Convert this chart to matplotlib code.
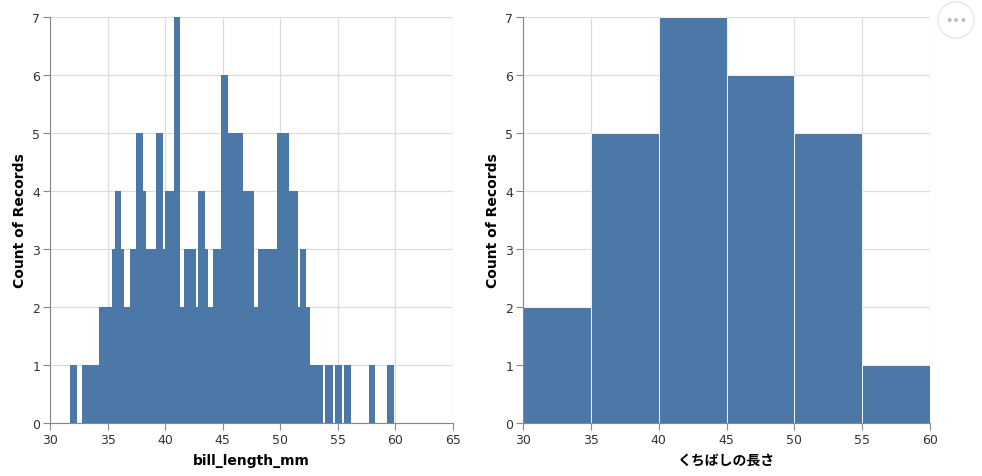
import matplotlib.pyplot as plt
from matplotlib.patches import Circle

plt.rcParams['font.family'] = ['DejaVu Sans', 'Noto Sans CJK JP']

# left chart: bill length values and how many records share each one
bill_length = [32.03, 33.03, 33.5, 33.97, 34.55, 35.07, 35.65, 35.92, 36.13, 36.65,
               37.23, 37.75, 38.03, 38.61, 38.96, 39.54, 39.67, 40.25, 40.45, 41.03,
               41.38, 41.96, 42.42, 42.59, 43.14, 43.39, 43.94, 44.49, 44.75, 45.14,
               45.55, 46.13, 46.45, 46.80, 47.43, 47.77, 48.35, 48.9, 49.39, 49.97,
               50.43, 51.01, 51.29, 51.41, 51.98, 52.27, 52.77, 53.34, 53.42, 54.17,
               54.29, 55.08, 55.84, 57.96, 59.55]
record_count = [1, 1, 1, 1, 2, 2, 3, 4, 3, 2,
                3, 5, 4, 3, 3, 5, 3, 4, 4, 7,
                2, 3, 3, 2, 4, 3, 2, 3, 3, 6,
                5, 5, 5, 4, 4, 2, 3, 3, 3, 5,
                5, 4, 4, 2, 3, 2, 1, 1, 1, 1,
                1, 1, 1, 1, 1]

# right chart: binned counts
bin_edges = [30, 35, 40, 45, 50, 55, 60]
bin_counts = [2, 5, 7, 6, 5, 1]

blue = '#4c78a8'
fig = plt.figure(figsize=(9.82, 4.77), dpi=100)
ax1 = fig.add_axes([0.0509, 0.1111, 0.4104, 0.8512])
ax2 = fig.add_axes([0.5326, 0.1111, 0.4145, 0.8512])

ax1.bar(bill_length, record_count, width=0.58, color=blue, linewidth=0)
ax1.set_xlim(30, 65)
ax1.set_xticks(range(30, 66, 5))
ax1.set_xlabel('bill_length_mm')

lefts = bin_edges[:-1]
widths = [b - a for a, b in zip(bin_edges[:-1], bin_edges[1:])]
ax2.bar(lefts, bin_counts, width=widths, align='edge', color=blue,
        edgecolor='white', linewidth=0.6)
ax2.set_xlim(30, 60)
ax2.set_xticks(range(30, 61, 5))
ax2.set_xlabel('くちばしの長さ')

for ax in (ax1, ax2):
    ax.set_ylim(0, 7)
    ax.set_yticks(range(0, 8))
    ax.set_ylabel('Count of Records', fontsize=10, fontweight='bold', labelpad=4)
    ax.xaxis.label.set_fontsize(10)
    ax.xaxis.label.set_fontweight('bold')
    ax.xaxis.labelpad = 5
    ax.grid(True, color='#dddddd', linewidth=0.9)
    ax.set_axisbelow(True)
    for s in ('top', 'right'):
        ax.spines[s].set_visible(False)
    for s in ('left', 'bottom'):
        ax.spines[s].set_color('#888888')
    ax.tick_params(length=5, color='#888888', labelsize=9, labelcolor='#333333', pad=2)

# the little menu button in the corner
btn = Circle((956, 477 - 21), 18, transform=None, facecolor='white',
             edgecolor='#e6e6e6', linewidth=1)
fig.patches.append(btn)
fig.text(956 / 982, 1 - 22 / 477, '•••', ha='center', va='center', fontsize=9, color='#bbbbbb')

fig.savefig('out.png', dpi=100)
